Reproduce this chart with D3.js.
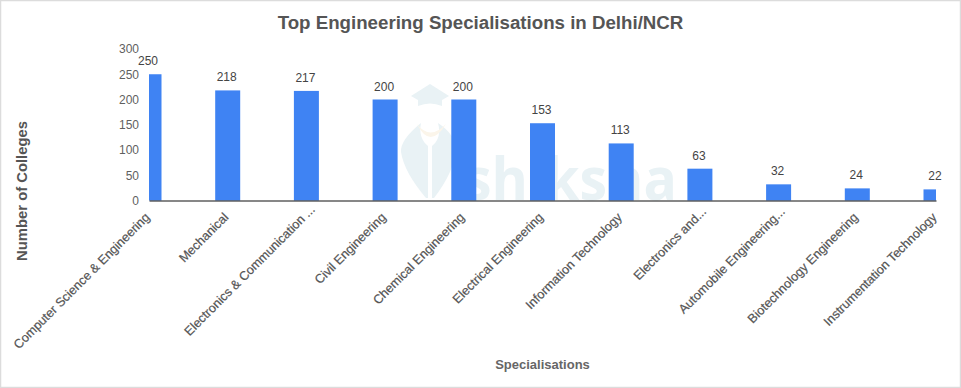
<!DOCTYPE html>
<html>
<head>
<meta charset="utf-8">
<script src="https://d3js.org/d3.v7.min.js"></script>
<style>
  html, body { margin: 0; padding: 0; background: #fff; }
  svg { display: block; font-family: "Liberation Sans", Arial, sans-serif; }
</style>
</head>
<body>
<div id="chart"></div>
<script>
var categories = ["Computer Science & Engineering", "Mechanical", "Electronics & Communication ...", "Civil Engineering", "Chemical Engineering", "Electrical Engineering", "Information Technology", "Electronics and...", "Automobile Engineering...", "Biotechnology Engineering", "Instrumentation Technology"];
var colleges = [250, 218, 217, 200, 200, 153, 113, 63, 32, 24, 22];
var yTicks = [0, 50, 100, 150, 200, 250, 300];

var width = 961, height = 388;
var svg = d3.select("#chart").append("svg").attr("width", width).attr("height", height);

// image frame
svg.append("rect")
    .attr("x", 0.5).attr("y", 0.5)
    .attr("width", width - 1).attr("height", height - 1)
    .attr("fill", "#fff").attr("stroke", "#dcdcdc").attr("stroke-width", 1.5);

// watermark sits under the bars
var mark = svg.append("g").attr("fill", "#e9f2f5");
mark.append("path").attr("d", "M430 84 L449 96 L442 100 L442 106 Q430 101 418 106 L418 100 L411 96 Z");
mark.append("path").attr("d", "M421 123 Q400 140 401 152 Q404 172 426 198 L428 198 L428 146 Q418 138 421 123 Z");
mark.append("path").attr("d", "M438 123 Q456 135 456 150 Q454 172 434 198 L432 198 L432 146 Q442 138 438 123 Z");
mark.append("path").attr("d", "M417 124 Q430 150 446 124 Q430 141 417 124 Z").attr("fill", "#fbf5ea");
var markText = mark.append("text")
    .attr("font-size", 60).attr("font-weight", "bold")
    .attr("font-family", "'Open Sans', sans-serif")
    .text("shiksha");
// squeeze it to the width of the original wordmark
markText.attr("transform", "translate(464,200) scale(" + 213 / markText.node().getComputedTextLength() + ",1)");

var xScale = d3.scalePoint().domain(categories).range([149, 936]);
var yScale = d3.scaleLinear().domain([0, 300]).range([200.5, 49]);
var barWidth = 25;

svg.append("clipPath").attr("id", "plot-clip")
    .append("rect")
    .attr("x", xScale.range()[0]).attr("y", 0)
    .attr("width", xScale.range()[1] - xScale.range()[0]).attr("height", height);

// bars, first and last get cut in half by the plot edge
svg.append("g").attr("clip-path", "url(#plot-clip)")
    .selectAll("rect")
    .data(colleges)
    .enter().append("rect")
    .attr("x", function (d, i) { return xScale(categories[i]) - barWidth / 2; })
    .attr("y", function (d) { return yScale(d); })
    .attr("width", barWidth)
    .attr("height", function (d) { return yScale(0) - yScale(d); })
    .attr("fill", "#3f83f3");

// y axis
var yAxis = d3.axisLeft(yScale).tickValues(yTicks).tickSize(0).tickPadding(0);
var yG = svg.append("g").attr("transform", "translate(139,0)").call(yAxis);
yG.select(".domain").remove();
yG.selectAll("text").attr("font-size", 12).attr("fill", "#5f5f5f").attr("font-family", "inherit");

// x axis
var xAxis = d3.axisBottom(xScale).tickSize(0).tickSizeOuter(0).tickPadding(0);
var xG = svg.append("g").attr("transform", "translate(0,200.5)").call(xAxis);
xG.select(".domain").attr("stroke", "#111").attr("stroke-width", 1.2);
xG.selectAll("text")
    .attr("font-size", 12.6).attr("fill", "#555").attr("font-family", "inherit")
    .attr("stroke", "#555").attr("stroke-width", 0.2)
    .attr("text-anchor", "end")
    .attr("dy", 0).attr("y", 0)
    // shortened labels run past the tick with their dots
    .attr("dx", function (d) { return d.endsWith(" ...") ? 11 : d.endsWith("...") ? 8 : 0; })
    .attr("transform", "translate(1,17.5) rotate(-45)");

// value labels
svg.append("g").selectAll("text")
    .data(colleges)
    .enter().append("text")
    .attr("x", function (d, i) { return xScale(categories[i]) - 1; })
    .attr("y", function (d) { return yScale(d) - 9; })
    .attr("text-anchor", "middle")
    .attr("font-size", 12).attr("fill", "#444")
    .text(function (d) { return d; });

// titles
svg.append("text").attr("x", 480.5).attr("y", 29)
    .attr("text-anchor", "middle").attr("font-size", 18.7).attr("font-weight", "bold").attr("fill", "#555")
    .text("Top Engineering Specialisations in Delhi/NCR");
svg.append("text").attr("transform", "translate(27,191) rotate(-90)")
    .attr("text-anchor", "middle").attr("font-size", 14.8).attr("font-weight", "bold").attr("fill", "#555")
    .text("Number of Colleges");
svg.append("text").attr("x", 542.5).attr("y", 368.5)
    .attr("text-anchor", "middle").attr("font-size", 13).attr("font-weight", "bold").attr("fill", "#666")
    .text("Specialisations");
</script>
</body>
</html>
